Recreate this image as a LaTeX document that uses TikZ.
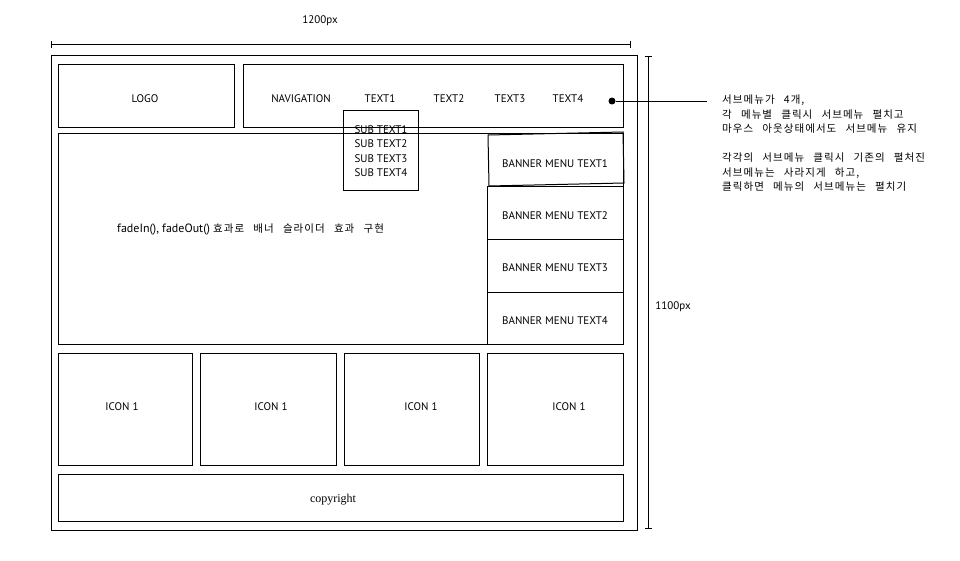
\documentclass[tikz,border=0pt]{standalone}
\usepackage{fontspec}
\setmainfont{PT Sans}
\newfontfamily\kr[LetterSpace=10,WordSpace=2.7]{Noto Sans CJK KR}
\newfontfamily\serifcopy{Liberation Serif}
\usetikzlibrary{arrows.meta}
\begin{document}
\begin{tikzpicture}[x=1pt,y=-1pt,
  box/.style={draw, line width=1pt, inner sep=0pt, outer sep=0pt},
  lbl/.style={inner sep=0pt, font=\fontsize{11}{13}\selectfont},
  dim/.style={line width=0.9pt, {Bar[width=7pt]}-{Bar[width=7pt]}},
  ann/.style={inner sep=0pt, align=left, anchor=north west, font=\kr\fontsize{10.5}{14.5}\selectfont}]
\useasboundingbox (0,0) rectangle (960,560);
% dimensions
\coordinate (dl) at (51,44);
\coordinate (dr) at (631,44);
\draw[dim] (dl) -- (dr);
\node[lbl] (w) at (320,21) {1200px};
\coordinate (vt) at (648,56);
\coordinate (vb) at (648,529);
\draw[dim] (vt) -- (vb);
\node[lbl] (h) at (673,307) {1100px};
% outer frame
\node[box, minimum width=586pt, minimum height=475pt] (frame) at (344,292.5) {};
% header
\node[box, minimum width=176pt, minimum height=63pt] (logo) at (146,95.5) {};
\node[lbl] (logot) at (145,99) {LOGO};
\node[box, minimum width=380pt, minimum height=63pt] (nav) at (433,95.5) {};
\node[lbl] (n0) at (301,99) {NAVIGATION};
\node[lbl] (n1) at (380,99) {TEXT1};
\node[lbl] (n2) at (449,99) {TEXT2};
\node[lbl] (n3) at (510,99) {TEXT3};
\node[lbl] (n4) at (568,99) {TEXT4};
\node[circle, fill, inner sep=0pt, minimum size=7pt] (dot) at (612,101) {};
\coordinate (annend) at (707,101);
\draw[line width=0.9pt] (dot) -- (annend);
\node[ann] (note) at (722,95) {서브메뉴가 4개,\\각 메뉴별 클릭시 서브메뉴 펼치고\\마우스 아웃상태에서도 서브메뉴 유지\\[14.5pt]각각의 서브메뉴 클릭시 기존의 펼처진\\서브메뉴는 사라지게 하고,\\클릭하면 메뉴의 서브메뉴는 펼치기};
% content
\node[box, minimum width=565pt, minimum height=211pt] (content) at (340.5,238.5) {};
\node[lbl, anchor=west] (fade) at (117,229) {\fontsize{12}{14}\selectfont fadeIn(), fadeOut() {\kr\fontsize{10.5}{12}\selectfont 효과로 배너 슬라이더 효과 구현}};
% banner menu
\node[box, minimum width=136pt, minimum height=53pt] (b2) at (555,212.5) {};
\node[lbl] (b2t) at (555,216) {BANNER MENU TEXT2};
\node[box, minimum width=136pt, minimum height=53pt] (b3) at (555,265.5) {};
\node[lbl] (b3t) at (555,268) {BANNER MENU TEXT3};
\node[box, minimum width=136pt, minimum height=52pt] (b4) at (555,318) {};
\node[lbl] (b4t) at (555,321) {BANNER MENU TEXT4};
\draw[line width=1pt] (488,135) -- (623,132) -- (624,183) -- (489,186) -- cycle;
\node[lbl] (b1) at (555,164) {BANNER MENU TEXT1};
% submenu
\node[box, minimum width=75pt, minimum height=80pt] (sub) at (380.5,150) {};
\node[lbl, align=center, font=\fontsize{11}{14.5}\selectfont] (subt) at (381,151) {SUB TEXT1\\SUB TEXT2\\SUB TEXT3\\SUB TEXT4};
% icons
\node[box, minimum width=134pt, minimum height=112pt] (i1) at (125,409) {};
\node[box, minimum width=136pt, minimum height=112pt] (i2) at (268,409) {};
\node[box, minimum width=135pt, minimum height=112pt] (i3) at (411.5,409) {};
\node[box, minimum width=136pt, minimum height=112pt] (i4) at (555,409) {};
\node[lbl] (t1) at (122,407) {ICON 1};
\node[lbl] (t2) at (271,407) {ICON 1};
\node[lbl] (t3) at (421,407) {ICON 1};
\node[lbl] (t4) at (569,407) {ICON 1};
% footer
\node[box, minimum width=565pt, minimum height=47pt] (foot) at (340.5,497.5) {};
\node[lbl, font=\serifcopy\fontsize{12}{13}\selectfont] (copy) at (333,500) {copyright};
\end{tikzpicture}
\end{document}
